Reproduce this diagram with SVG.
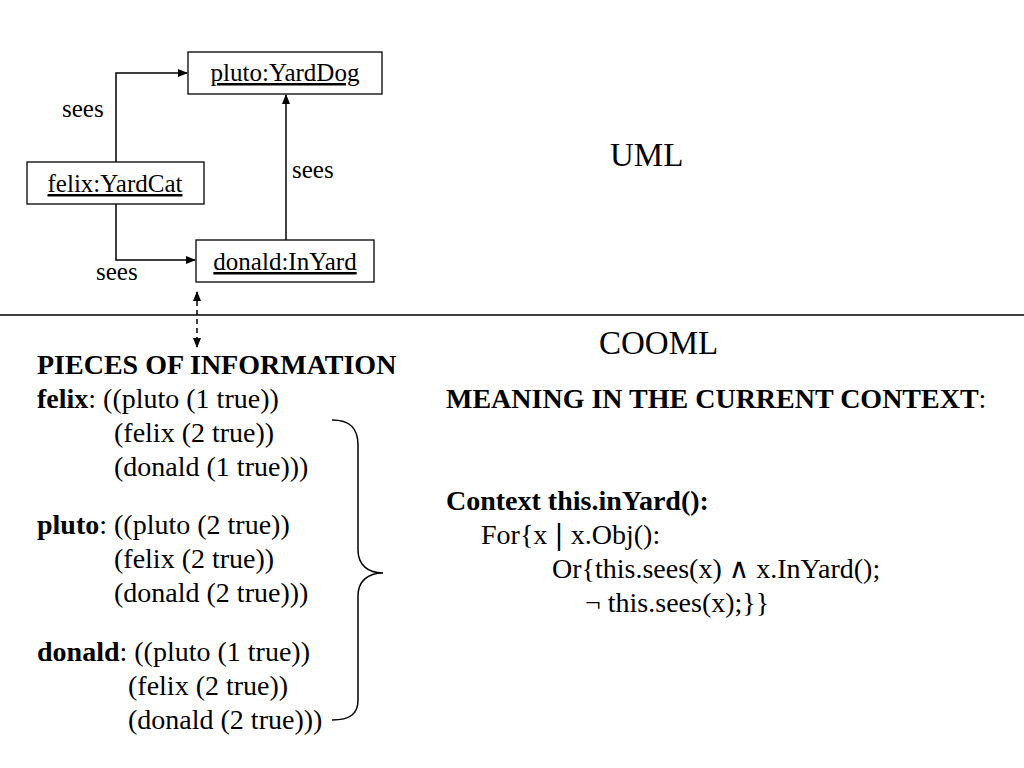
<svg xmlns="http://www.w3.org/2000/svg" width="1024" height="768" viewBox="0 0 1024 768">
<style>
text{font-family:"Liberation Serif","Times New Roman",serif;font-size:25px;fill:#000}
.t{font-size:28px}
.n rect{fill:#fff;stroke:#000;stroke-width:1.3}
.n text{text-decoration:underline}
.c{fill:none;stroke:#000;stroke-width:1.5}
.b{font-weight:bold}
.big{font-size:33px}
</style>
<defs>
<marker id="a" markerWidth="10" markerHeight="8" refX="9" refY="4" orient="auto" markerUnits="userSpaceOnUse"><path d="M0,0L10,4L0,8z"/></marker>
<marker id="as" markerWidth="10" markerHeight="8" refX="1" refY="4" orient="auto" markerUnits="userSpaceOnUse"><path d="M10,0L0,4L10,8z"/></marker>
</defs>
<rect width="1024" height="768" fill="#fff"/>
<g id="connectors">
<path class="c" d="M116,162V73H187" marker-end="url(#a)"/>
<path class="c" d="M116,204V260H195" marker-end="url(#a)"/>
<path class="c" d="M286,240V95" marker-end="url(#a)"/>
<path class="c" d="M197,292V347" stroke-dasharray="5,4" marker-start="url(#as)" marker-end="url(#a)"/>
<text x="62" y="117">sees</text>
<text x="292" y="178">sees</text>
<text x="96" y="280">sees</text>
</g>
<g id="pluto" class="n"><rect x="188" y="52" width="194" height="42"/><text x="285" y="81" text-anchor="middle">pluto:YardDog</text></g>
<g id="felix" class="n"><rect x="27" y="162" width="177" height="42"/><text x="115" y="192" text-anchor="middle">felix:YardCat</text></g>
<g id="donald" class="n"><rect x="196" y="240" width="178" height="42"/><text x="285" y="270" text-anchor="middle">donald:InYard</text></g>
<line x1="0" y1="315" x2="1024" y2="315" stroke="#000" stroke-width="1.3"/>
<text x="610" y="166" class="big">UML</text>
<text x="599" y="354" class="big">COOML</text>
<g class="t">
<text x="37" y="374" class="b t">PIECES OF INFORMATION</text>
<text x="37" y="408" class="t"><tspan class="b">felix</tspan>: ((pluto (1 true))</text>
<text x="114" y="442" class="t">(felix (2 true))</text>
<text x="114" y="476" class="t">(donald (1 true)))</text>
<text x="37" y="534" class="t"><tspan class="b">pluto</tspan>: ((pluto (2 true))</text>
<text x="114" y="568" class="t">(felix (2 true))</text>
<text x="114" y="602" class="t">(donald (2 true)))</text>
<text x="37" y="661" class="t"><tspan class="b">donald</tspan>: ((pluto (1 true))</text>
<text x="128" y="695" class="t">(felix (2 true))</text>
<text x="128" y="729" class="t">(donald (2 true)))</text>
<text x="446" y="408" class="t"><tspan class="b">MEANING IN THE CURRENT CONTEXT</tspan>:</text>
<text x="446" y="510" class="b t">Context this.inYard():</text>
<text x="481" y="544" class="t">For{x <tspan style="font-family:'DejaVu Serif',serif">|</tspan> x.Obj():</text>
<text x="552" y="578" class="t">Or{this.sees(x) <tspan style="font-family:'DejaVu Serif',serif">∧</tspan> x.InYard();</text>
<text x="585" y="612" class="t">¬ this.sees(x);}}</text>
</g>
<path class="c" stroke-width="1.2" d="M332,420C350,420 358,428 358,445V550C358,565 368,573 383,573C368,573 358,581 358,596V700C358,714 350,720 332,720"/>
</svg>
